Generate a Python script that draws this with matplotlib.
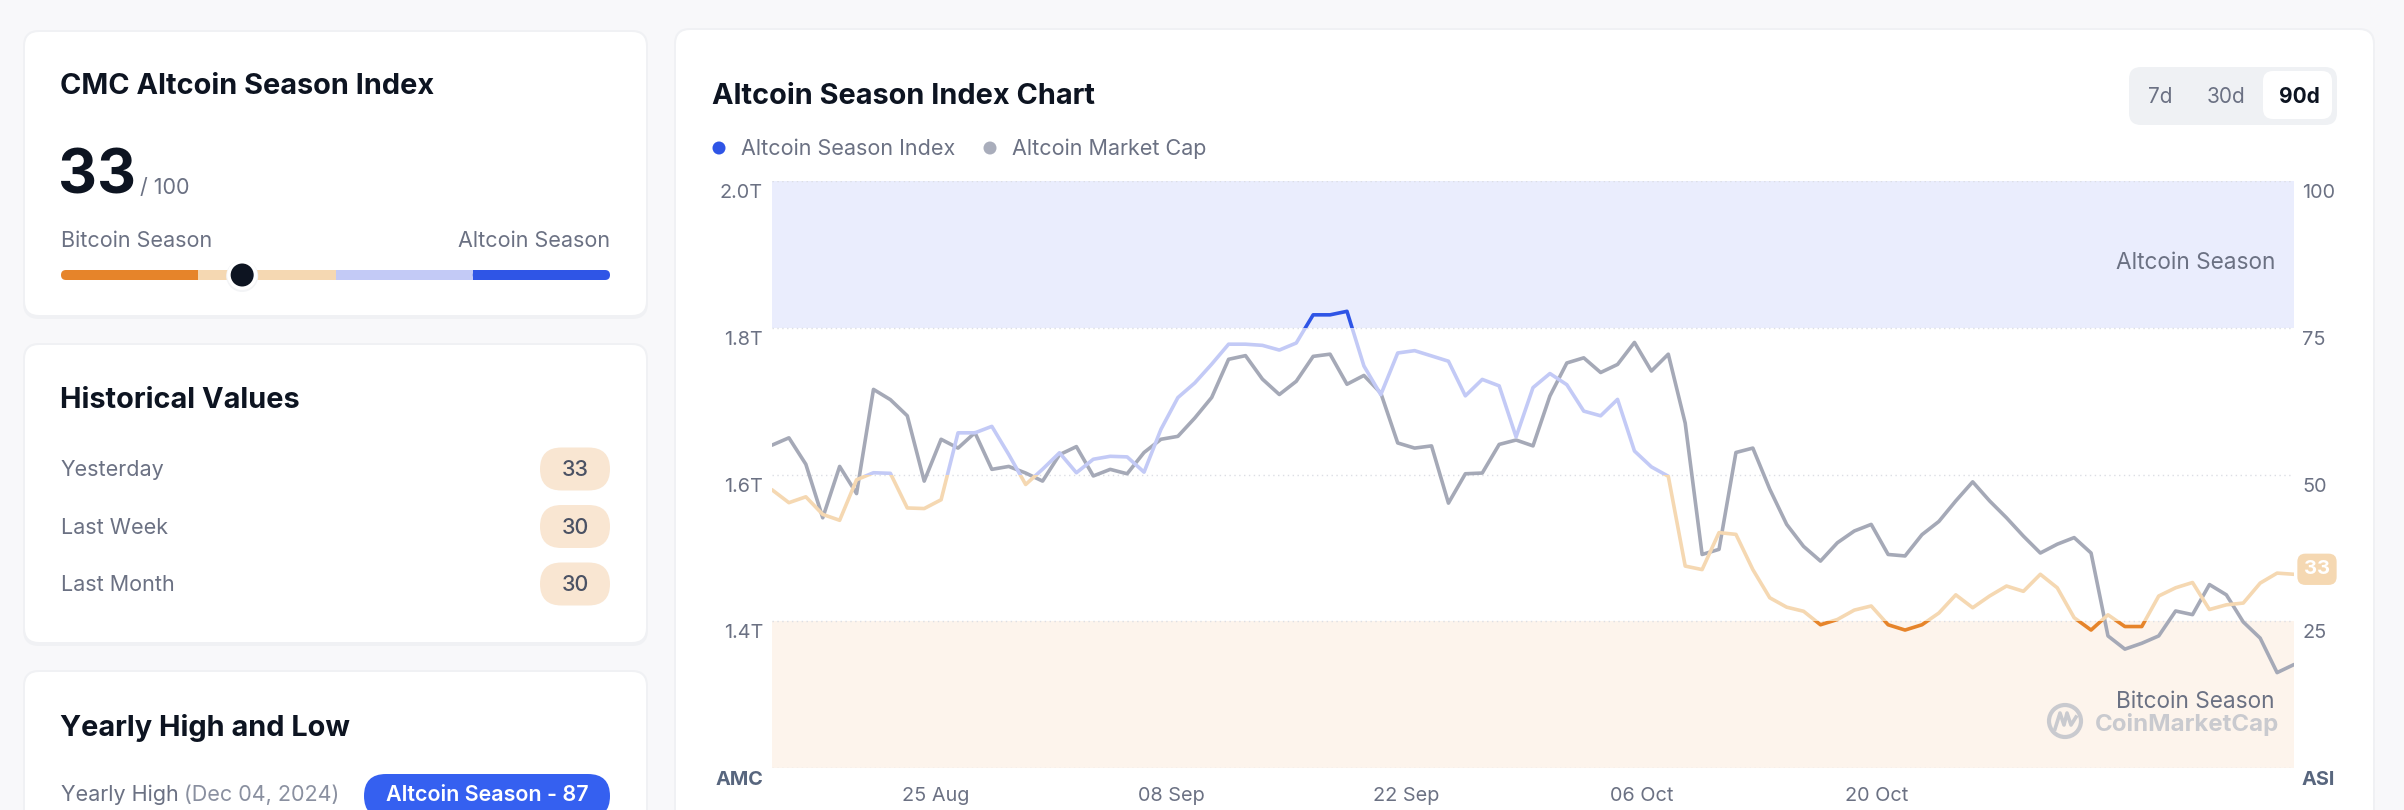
import matplotlib
matplotlib.use("Agg")
import numpy as np
import pandas as pd
import matplotlib.pyplot as plt
import matplotlib.dates as mdates
from matplotlib.patches import FancyBboxPatch, Rectangle, Circle
from matplotlib.transforms import blended_transform_factory, ScaledTranslation

W, H = 2404, 810

# ---- data ----
dates = pd.date_range("2025-08-15 06:00", "2025-11-13 20:00", periods=91)

asi = [47.4, 45.2, 46.2, 43.2, 42.2, 49.1, 50.3, 50.2, 44.3, 44.2,
       45.7, 57.1, 57.1, 58.2, 53.4, 48.3, 50.9, 53.7, 50.3, 52.6,
       53.1, 53.0, 50.4, 57.7, 63.1, 65.6, 68.8, 72.2, 72.2, 72.0,
       71.2, 72.4, 77.2, 77.2, 77.8, 68.5, 63.6, 70.7, 71.1, 70.2,
       69.3, 63.4, 66.2, 65.1, 56.4, 64.8, 67.2, 65.3, 60.8, 60.0,
       62.8, 54.0, 51.3, 49.7, 34.4, 33.8, 40.1, 39.8, 33.8, 29.0,
       27.4, 26.7, 24.4, 25.3, 26.9, 27.6, 24.4, 23.5, 24.4, 26.4,
       29.5, 27.3, 29.3, 31.0, 30.1, 33.0, 30.7, 25.6, 23.5, 26.1,
       24.1, 24.1, 29.3, 30.7, 31.6, 27.0, 27.8, 28.1, 31.5, 33.2, 33.0]

amc = [1.640, 1.650, 1.614, 1.541, 1.611, 1.574, 1.716, 1.702, 1.680, 1.591,
       1.648, 1.636, 1.657, 1.607, 1.611, 1.602, 1.591, 1.627, 1.638, 1.598,
       1.607, 1.601, 1.630, 1.648, 1.652, 1.677, 1.705, 1.757, 1.762, 1.730,
       1.709, 1.727, 1.761, 1.764, 1.723, 1.735, 1.711, 1.643, 1.636, 1.639,
       1.561, 1.601, 1.602, 1.641, 1.647, 1.639, 1.707, 1.752, 1.759, 1.739,
       1.750, 1.780, 1.741, 1.764, 1.670, 1.491, 1.498, 1.630, 1.636, 1.580,
       1.532, 1.502, 1.482, 1.507, 1.523, 1.532, 1.491, 1.489, 1.518, 1.536,
       1.564, 1.590, 1.564, 1.541, 1.516, 1.493, 1.505, 1.514, 1.493, 1.380,
       1.362, 1.370, 1.380, 1.414, 1.409, 1.450, 1.436, 1.399, 1.377, 1.330, 1.341]

season_edges = [0, 25, 50, 75, 100]
season_colors = ["#e6842a", "#f5d8b2", "#c3caf6", "#2f55e6"]
current_index = 33

hist_labels = ["Yesterday", "Last Week", "Last Month"]
hist_values = [33, 30, 30]

yearly_high_text = "Yearly High"
yearly_high_date = "(Dec 04, 2024)"
yearly_high_badge = "Altcoin Season - 87"

x_ticks = pd.to_datetime(["2025-08-25", "2025-09-08", "2025-09-22", "2025-10-06", "2025-10-20"])
amc_ticks = [1.2, 1.4, 1.6, 1.8, 2.0]
amc_labels = ["AMC", "1.4T", "1.6T", "1.8T", "2.0T"]
asi_ticks = [0, 25, 50, 75, 100]
asi_labels = ["ASI", "25", "50", "75", "100"]
ranges = ["7d", "30d", "90d"]

DARK = "#0d1421"
GREY = "#6b7183"
TITLE = 20.8
BODY = 15.5

plt.rcParams["font.family"] = ["Inter", "DejaVu Sans"]

fig = plt.figure(figsize=(W / 100, H / 100), dpi=100, facecolor="#f8f8fa")

# background layer in pixel coordinates
bg = fig.add_axes([0, 0, 1, 1], zorder=0)
bg.set_xlim(0, W)
bg.set_ylim(H, 0)
bg.axis("off")


def card(x0, y0, x1, y1, r=14):
    bg.add_patch(FancyBboxPatch((x0 - 2, y0 - 2), x1 - x0 + 4, y1 - y0 + 6,
                                boxstyle=f"round,pad=0,rounding_size={r + 2}",
                                fc="#f0f1f4", ec="none"))
    bg.add_patch(FancyBboxPatch((x0, y0), x1 - x0, y1 - y0,
                                boxstyle=f"round,pad=0,rounding_size={r}",
                                fc="white", ec="none"))


def pill(xc, yc, w, h, color):
    bg.add_patch(FancyBboxPatch((xc - w / 2, yc - h / 2), w, h,
                                boxstyle=f"round,pad=0,rounding_size={h / 2}",
                                fc=color, ec="none"))


card(25, 32, 646, 315)
card(25, 345, 646, 642)
card(25, 672, 646, 840)
card(676, 30, 2373, 840)

# ---- card 1: current index ----
bg.text(60, 87, "CMC Altcoin Season Index", fontsize=TITLE, weight="bold", color=DARK, va="center")
bg.text(58, 194, str(current_index), fontsize=43.5, weight="bold", color=DARK, va="baseline")
bg.text(140, 194, "/ 100", fontsize=15.5, color=GREY, va="baseline")
bg.text(61, 241, "Bitcoin Season", fontsize=BODY, color=GREY, va="center")
bg.text(610, 241, "Altcoin Season", fontsize=BODY, color=GREY, va="center", ha="right")

bar_x0, bar_x1, bar_y, bar_h = 61, 610, 275, 10
scale = (bar_x1 - bar_x0) / (season_edges[-1] - season_edges[0])
for i, col in enumerate(season_colors):
    a = bar_x0 + season_edges[i] * scale
    b = bar_x0 + season_edges[i + 1] * scale
    if i == 0 or i == len(season_colors) - 1:
        bg.add_patch(FancyBboxPatch((a, bar_y - bar_h / 2), b - a, bar_h,
                                    boxstyle=f"round,pad=0,rounding_size={bar_h / 2}",
                                    fc=col, ec="none"))
        sq = b - 8 if i == 0 else a
        bg.add_patch(Rectangle((sq, bar_y - bar_h / 2), 8, bar_h, fc=col, ec="none"))
    else:
        bg.add_patch(Rectangle((a, bar_y - bar_h / 2), b - a, bar_h, fc=col, ec="none"))
knob_x = bar_x0 + current_index * scale
bg.add_patch(Circle((knob_x, bar_y + 1), 16, fc="#f3f4f6", ec="none"))
bg.add_patch(Circle((knob_x, bar_y), 15, fc="white", ec="none"))
bg.add_patch(Circle((knob_x, bar_y), 11.5, fc=DARK, ec="none"))

# ---- card 2: historical values ----
bg.text(60, 400, "Historical Values", fontsize=TITLE, weight="bold", color=DARK, va="center")
for k, (lab, val) in enumerate(zip(hist_labels, hist_values)):
    yc = 469 + k * 57.5
    bg.text(61, yc + 1, lab, fontsize=BODY, color=GREY, va="center")
    pill(575, yc, 70, 43, "#f9e6d2")
    bg.text(575, yc + 1, str(val), fontsize=BODY, color="#4b5264", va="center", ha="center", weight="medium")

# ---- card 3: yearly high/low ----
bg.text(60, 728, "Yearly High and Low", fontsize=TITLE, weight="bold", color=DARK, va="center")
bg.text(61, 795, yearly_high_text, fontsize=BODY, color=GREY, va="center")
bg.text(184, 795, yearly_high_date, fontsize=BODY, color="#8a90a0", va="center")
pill(487, 796, 246, 44, "#3560f0")
bg.text(487, 795, yearly_high_badge, fontsize=15.5, color="white", va="center", ha="center", weight="semibold")

# ---- chart card header ----
bg.text(712, 96, "Altcoin Season Index Chart", fontsize=TITLE, weight="bold", color=DARK, va="center")
bg.add_patch(Circle((719, 148), 6.5, fc=season_colors[3], ec="none"))
bg.text(741, 149, "Altcoin Season Index", fontsize=BODY, color=GREY, va="center")
bg.add_patch(Circle((990, 148), 6.5, fc="#a9adbb", ec="none"))
bg.text(1012, 149, "Altcoin Market Cap", fontsize=BODY, color=GREY, va="center")

bg.add_patch(FancyBboxPatch((2129, 67), 208, 58, boxstyle="round,pad=0,rounding_size=12",
                            fc="#eff1f4", ec="none"))
bg.add_patch(FancyBboxPatch((2263, 71), 69, 48, boxstyle="round,pad=0,rounding_size=10",
                            fc="white", ec="none"))
for xc, lab in zip([2160, 2226, 2299], ranges):
    sel = lab == "90d"
    bg.text(xc, 97, lab, fontsize=15, color=DARK if sel else GREY,
            weight="bold" if sel else "normal", ha="center", va="center")

# ---- chart ----
ax = fig.add_axes([772 / W, 1 - 768 / H, (2294 - 772) / W, (768 - 181) / H])
ax.set_zorder(1)
ax.patch.set_visible(False)
ax2 = ax.twinx()
ax2.set_zorder(2)
ax2.patch.set_visible(False)

band_tr = blended_transform_factory(ax.transAxes, ax2.transData)
ax.add_patch(Rectangle((0, 75), 1, 25, transform=band_tr, fc="#eaedfd", ec="none", zorder=0.2))
ax.add_patch(Rectangle((0, 0), 1, 25, transform=band_tr, fc="#fdf4ec", ec="none", zorder=0.2))

ax.plot(dates, amc, color="#a5a9b7", lw=2.6, solid_joinstyle="round",
        solid_capstyle="round", zorder=3)

clip_tr = blended_transform_factory(ax2.transAxes, ax2.transData)
for i, col in enumerate(season_colors):
    lo = season_edges[i] if i > 0 else -50
    hi = season_edges[i + 1] if i < len(season_colors) - 1 else 150
    ln, = ax2.plot(dates, asi, color=col, lw=2.6, solid_joinstyle="round",
                   solid_capstyle="round", zorder=3)
    ln.set_clip_path(Rectangle((0, lo), 1, hi - lo, transform=clip_tr))

ax.set_xlim(dates[0], dates[-1])
ax.set_ylim(amc_ticks[0], amc_ticks[-1])
ax2.set_ylim(asi_ticks[0], asi_ticks[-1])

ax.set_yticks(amc_ticks)
ax2.set_yticks(asi_ticks)
ax.set_xticks(x_ticks)
ax.xaxis.set_major_formatter(mdates.DateFormatter("%d %b"))

ax.grid(axis="y", color="#dcdee4", linestyle=(0, (1, 2.5)), lw=1.0)
ax.grid(axis="x", visible=False)
ax.set_axisbelow(True)

for a in (ax, ax2):
    for s in a.spines.values():
        s.set_visible(False)
ax.tick_params(axis="y", length=0, labelleft=False)
ax2.tick_params(axis="y", length=0, labelright=False)
ax.tick_params(axis="x", length=0, pad=14, labelsize=14.3, labelcolor=GREY)

# y labels sit just under their gridline, as on the site
left_tr = blended_transform_factory(ax.transAxes, ax.transData) + \
    ScaledTranslation(-9 / 100, -12 / 100, fig.dpi_scale_trans)
right_tr = blended_transform_factory(ax2.transAxes, ax2.transData) + \
    ScaledTranslation(8 / 100, -12 / 100, fig.dpi_scale_trans)
for v, lab in zip(amc_ticks, amc_labels):
    bold = lab == "AMC"
    ax.text(0, v, lab, transform=left_tr, ha="right", va="center", fontsize=14.3,
            color="#58667e" if bold else GREY, weight="bold" if bold else "normal")
for v, lab in zip(asi_ticks, asi_labels):
    bold = lab == "ASI"
    ax2.text(1, v, lab, transform=right_tr, ha="left", va="center", fontsize=14.3,
             color="#58667e" if bold else GREY, weight="bold" if bold else "normal")

ax.text(0.9875, 86.0, "Altcoin Season", transform=band_tr, ha="right", va="center",
        fontsize=16.3, color=GREY, zorder=0.4)
ax.text(0.9875, 11.2, "Bitcoin Season", transform=band_tr, ha="right", va="center",
        fontsize=16.3, color=GREY, zorder=0.4)

ax2.annotate(f"{asi[-1]:.0f}", xy=(1, asi[-1]), xycoords=clip_tr, xytext=(23, 5),
             textcoords="offset pixels", ha="center", va="center", fontsize=14.5,
             weight="bold", color="white", annotation_clip=False,
             bbox=dict(boxstyle="round,pad=0.33,rounding_size=0.4", fc="#f5d8b2", ec="none"))

# watermark
fg = fig.add_axes([0, 0, 1, 1], zorder=5)
fg.set_xlim(0, W)
fg.set_ylim(H, 0)
fg.axis("off")
fg.add_patch(Circle((2065, 721), 16, fc="none", ec="#c9cacf", lw=3))
fg.plot([2055, 2060, 2064, 2067, 2071, 2076], [729, 713, 725, 713, 725, 717],
        color="#c9cacf", lw=2.6, solid_joinstyle="round")
fg.text(2279, 724, "CoinMarketCap", ha="right", va="center", fontsize=17.3,
        weight="bold", color="#c9cacf")

fig.savefig("out.png", dpi=100, facecolor=fig.get_facecolor())
